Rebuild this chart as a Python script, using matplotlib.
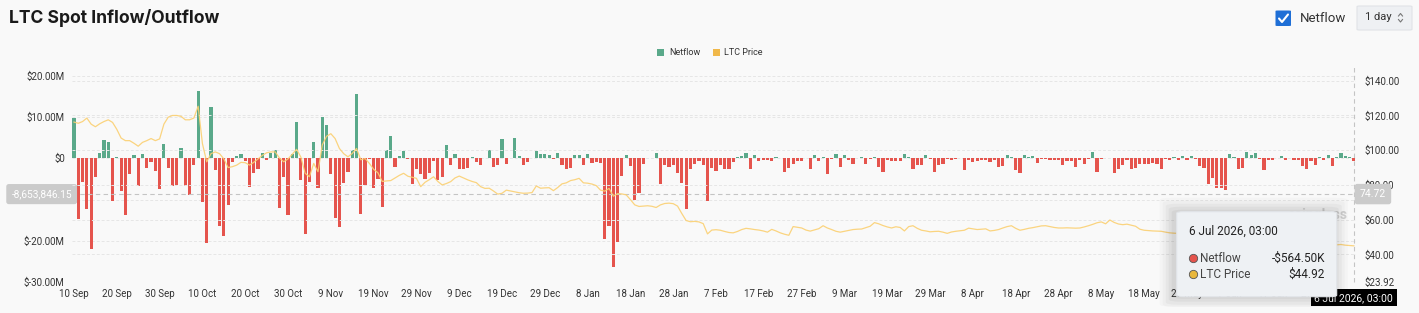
import matplotlib
matplotlib.use("Agg")
import matplotlib.pyplot as plt
import numpy as np
import pandas as pd
from matplotlib.patches import FancyBboxPatch, Rectangle
from matplotlib.lines import Line2D
import matplotlib.transforms as mtransforms

# ---------------- data ----------------
start_date = "2025-09-10"

netflow_m = [
    9.7, -14.6, -5.8, -12.2, -22.0, -4.5, 1.4, 4.4, 4.0, -10.4,
    0.3, -7.8, -13.8, -3.8, 0.7, -6.8, 1.0, -2.3, -0.9, -3.0,
    -7.3, 3.5, -2.3, -6.8, -6.4, 2.5, -6.6, -8.8, -1.5, 16.4,
    -10.5, -20.4, 12.4, -2.9, -16.3, -18.7, -11.4, -1.0, 0.5, 1.0,
    -0.6, -7.0, -3.5, -2.7, 1.3, -0.3, 1.3, 2.1, -12.0, -4.6,
    -13.8, 1.0, 8.8, -5.3, -18.3, -5.7, 3.9, -7.2, 10.0, 8.1,
    -3.7, -14.4, -16.6, -6.0, -3.2, 1.9, 15.5, -13.4, -6.5, -0.2,
    -7.2, -4.9, -11.7, 2.1, 5.5, -2.2, 0.5, 1.8, -0.2, -6.2,
    -2.7, -3.8, -5.0, -3.5, -0.7, -5.3, -4.4, 3.3, -1.7, 1.1,
    -2.6, -2.7, -2.4, 0.3, -1.0, -1.7, 0.2, 2.0, -2.0, -1.7,
    4.7, -1.4, 0.1, 5.0, 0.6, -1.6, -0.9, 0.2, 1.8, 1.1,
    1.0, 0.8, -0.2, 1.4, -1.5, -2.6, -2.4, 0.8, 0.8, -1.7,
    1.0, -1.1, -0.9, -1.1, -19.4, -16.4, -26.2, -20.2, -4.2, 0.8,
    -1.9, -10.0, -8.5, -1.3, 0.1, 0.2, 1.3, -6.2, -1.7, -2.1,
    -1.7, -3.5, -6.0, -12.2, -2.7, -1.4, -0.6, -1.7, -10.4, -2.3,
    -3.0, -1.7, -2.6, -2.7, -0.9, 0.3, 0.5, 1.3, -2.5, 0.7,
    -0.6, -0.3, -0.3, -0.6, 0.3, 0.2, -3.3, -2.3, -1.3, -0.7,
    -0.7, 0.2, -2.7, 0.8, -0.6, 0.3, -3.9, -0.1, 1.1, -2.0,
    0.8, -0.3, -1.4, 0.2, 0.3, -1.4, -0.1, 0.3, -2.0, -3.3,
    -0.4, -0.7, -0.7, -0.7, 1.0, 0.3, -2.5, -1.5, -1.5, 0.8,
    -0.2, -3.3, -1.5, -1.4, -0.2, -0.3, -0.2, 0.2, -2.9, -0.3,
    -0.9, -0.7, -0.3, -0.4, -1.0, -0.3, -2.0, -1.8, 0.8, 0.3,
    -2.9, -3.5, 0.7, 0.3, 0.5, -1.1, -0.2, -0.2, -0.3, -0.5,
    -0.5, -1.5, -0.6, -0.6, -2.0, -0.4, -1.4, -0.2, 1.5, -3.4,
    -0.1, 0.2, 0.1, -3.5, -2.7, -1.7, -0.4, -2.7, -2.3, -1.3,
    -1.3, -1.3, -1.1, -1.3, -2.7, -0.2, -0.3, 0.4, -0.5, 0.5,
    -0.3, 0.5, -0.2, -1.8, -2.4, -6.1, -4.8, -7.2, -7.2, -7.6,
    1.1, 0.3, -2.7, -2.3, 1.5, 0.8, 1.3, -0.2, -2.9, -0.3,
    -0.4, 0.2, 0.5, -0.4, 0.2, -0.4, -0.5, -1.8, -2.7, -0.6,
    -1.5, 0.3, -0.4, 0.8, -1.8, 0.3, 1.3, 0.5, 0.3, -0.5645,
]

ltc_price = [
    116.2, 115.5, 116.5, 118.5, 115.0, 113.5, 115.2, 116.5, 117.5, 116.0,
    112.0, 107.0, 105.5, 105.5, 104.0, 102.3, 104.5, 105.5, 106.7, 105.5,
    106.5, 115.0, 119.0, 120.0, 120.0, 119.5, 117.5, 117.5, 118.5, 125.3,
    103.8, 93.3, 98.0, 99.0, 98.0, 95.0, 90.0, 90.5, 91.4, 93.0,
    92.8, 91.4, 93.0, 95.0, 97.0, 98.5, 99.0, 99.0, 95.5, 93.3,
    95.0, 97.7, 100.5, 96.0, 86.7, 84.7, 92.4, 87.6, 103.0, 108.0,
    109.5, 106.7, 101.0, 98.0, 96.2, 98.1, 101.0, 94.5, 95.2, 92.4,
    89.0, 87.0, 82.0, 82.3, 82.5, 84.0, 85.5, 86.7, 85.0, 84.4,
    83.8, 79.0, 81.5, 83.0, 84.7, 82.0, 80.0, 80.8, 81.9, 84.0,
    85.1, 84.0, 82.9, 82.0, 81.3, 79.0, 78.0, 78.1, 76.5, 74.7,
    75.2, 77.0, 76.5, 76.0, 75.5, 75.2, 75.3, 75.6, 79.4, 78.1,
    78.3, 78.4, 76.7, 78.5, 80.6, 81.2, 82.5, 83.0, 83.8, 81.2,
    81.0, 80.5, 79.6, 77.0, 76.4, 78.0, 73.5, 75.0, 74.8, 74.3,
    71.5, 68.5, 67.6, 67.8, 68.0, 67.7, 67.0, 68.5, 69.3, 69.5,
    69.2, 67.8, 63.5, 59.5, 58.8, 59.0, 58.7, 57.7, 51.8, 54.0,
    54.2, 53.9, 53.2, 52.6, 52.4, 53.2, 54.3, 55.0, 54.7, 54.3,
    54.0, 53.5, 52.8, 54.4, 53.5, 52.4, 51.6, 51.0, 56.0, 55.6,
    55.2, 54.0, 53.4, 54.1, 54.8, 56.5, 55.2, 54.3, 53.3, 52.8,
    53.3, 53.8, 54.3, 54.5, 54.6, 55.4, 56.2, 58.3, 57.6, 56.6,
    55.8, 55.2, 55.9, 55.5, 53.5, 56.0, 56.5, 55.0, 53.9, 53.5,
    53.0, 53.2, 53.3, 52.8, 52.1, 52.9, 53.3, 53.6, 53.9, 55.1,
    54.7, 54.3, 54.5, 54.7, 53.5, 53.8, 54.3, 55.2, 56.0, 56.5,
    55.0, 53.9, 54.4, 55.0, 55.4, 55.9, 56.4, 56.5, 56.0, 55.5,
    55.2, 55.2, 55.3, 55.2, 55.1, 55.2, 55.8, 56.5, 57.3, 58.2,
    58.7, 57.6, 59.8, 58.4, 57.5, 57.1, 57.4, 56.8, 56.2, 54.5,
    53.9, 53.7, 53.5, 53.4, 53.3, 52.8, 52.4, 52.2, 52.1, 51.8,
    51.3, 51.6, 50.8, 50.9, 50.2, 50.6, 49.7, 49.9, 49.1, 49.3,
    48.6, 48.9, 48.2, 48.4, 47.7, 48.1, 47.5, 47.8, 47.2, 47.4,
    46.8, 47.1, 46.5, 46.7, 46.2, 46.4, 45.9, 46.1, 45.6, 45.8,
    45.3, 45.6, 45.2, 45.4, 45.0, 45.5, 45.7, 45.3, 45.1, 44.92,
]

left_ticks_m = [20, 10, 0, -10, -20, -30]
left_tick_labels = ["$20.00M", "$10.00M", "$0", "", "$-20.00M", "$-30.00M"]
right_ticks = [140, 120, 100, 80, 60, 40]
price_floor = 23.92
price_ceiling = 142.9
crosshair_netflow = -8653846.15
crosshair_price = 74.72
hover_label = "6 Jul 2026, 03:00"
hover_netflow = "-$564.50K"
hover_price = "$44.92"

assert len(netflow_m) == len(ltc_price) == 300

# ---------------- styling ----------------
W, H, DPI = 1419, 313, 100
BG = "#f9f9f9"
GREEN = "#5aa98a"
RED = "#e5544d"
PRICE = "#fbd072"
GRID = "#e6e6e6"
TXT = "#333333"
plt.rcParams["font.family"] = ["Roboto", "DejaVu Sans"]

def fx(px):
    return px / W

def fy(py):
    return 1 - py / H

fig = plt.figure(figsize=(W / DPI, H / DPI), dpi=DPI, facecolor=BG)

ax_left, ax_right, ax_top, ax_bot = 71.7, 1356, 75.7, 282.3
ax = fig.add_axes([fx(ax_left), fy(ax_bot), fx(ax_right - ax_left), (ax_bot - ax_top) / H])
ax.set_facecolor("none")
ax2 = ax.twinx()

dates = pd.date_range(start_date, periods=len(netflow_m), freq="D")
xs = np.arange(len(dates))
vals = np.array(netflow_m)
colors = [GREEN if v >= 0 else RED for v in vals]

ax.bar(xs, vals, width=0.74, color=colors, zorder=3)
ax2.plot(xs, ltc_price, color=PRICE, lw=0.9, alpha=0.9, zorder=4, solid_joinstyle="round")

ax.set_xlim(-0.54, 299.5)
ax.set_ylim(-30, 20)
ax2.set_ylim(price_floor, price_ceiling)

# grid lines
for t in left_ticks_m:
    ax.axhline(t, color=GRID, lw=0.7, ls=(0, (3, 2)), zorder=1)
for t in right_ticks:
    ax2.axhline(t, color=GRID, lw=0.7, ls=(0, (3, 2)), zorder=1)

for a in (ax, ax2):
    for s in a.spines.values():
        s.set_visible(False)

ax.set_yticks(left_ticks_m)
ax.set_yticklabels(left_tick_labels)
ax.tick_params(axis="y", length=0, pad=5, labelsize=7, labelcolor=TXT)
ax2.set_yticks(right_ticks + [price_floor])
ax2.set_yticklabels([f"${v:.2f}" for v in right_ticks + [price_floor]])
ax2.tick_params(axis="y", length=0, pad=6, labelsize=7, labelcolor=TXT)

tick_idx = list(range(0, len(dates), 10))
ax.set_xticks(tick_idx)
ax.set_xticklabels([f"{dates[i].day} {dates[i].strftime('%b')}" for i in tick_idx])
ax.tick_params(axis="x", length=0, pad=5, labelsize=7, labelcolor=TXT)

# crosshair
ax.axhline(crosshair_netflow / 1e6, color="#c4c4c4", lw=0.8, ls=(0, (4, 3)), zorder=5)
ax.axvline(xs[-1], color="#c4c4c4", lw=0.8, ls=(0, (4, 3)), zorder=5, ymax=1.04, clip_on=False)
tr_l = mtransforms.blended_transform_factory(ax.transAxes, ax.transData)
ax.text(0.0002, crosshair_netflow / 1e6, f"{crosshair_netflow:,.2f}", transform=tr_l,
        ha="right", va="center", fontsize=7.3, color="white", zorder=10,
        bbox=dict(boxstyle="round,pad=0.5,rounding_size=0.25", fc="#cbcbcb", ec="none"))
tr_r = mtransforms.blended_transform_factory(ax2.transAxes, ax2.transData)
ax2.text(1.003, crosshair_price, f"{crosshair_price:.2f}", transform=tr_r,
         ha="left", va="center", fontsize=7.5, color="white", zorder=10,
         bbox=dict(boxstyle="round,pad=0.5,rounding_size=0.25", fc="#cbcbcb", ec="none"))
tr_b = mtransforms.blended_transform_factory(ax.transData, ax.transAxes)
ax.text(xs[-1], -0.075, hover_label, transform=tr_b, ha="center", va="center",
        fontsize=7.5, color="white", zorder=12,
        bbox=dict(boxstyle="square,pad=0.35", fc="black", ec="none"), clip_on=False)

# watermark (mostly hidden by the tooltip)
fig.text(fx(1318), fy(215), "coinglass", fontsize=10, color="#d2d2d2", ha="center",
         va="center", fontweight="bold", zorder=2)

# tooltip with soft shadow
for i, al in enumerate([0.02, 0.025, 0.03, 0.035, 0.04]):
    g = 14 - i * 3
    fig.patches.append(FancyBboxPatch((fx(1176.7 - g - 3), fy(296.7 + min(g, 10))), fx(160 + 2 * g), (85 + g + min(g, 10)) / H,
                                      boxstyle="round,pad=0,rounding_size=0.008",
                                      transform=fig.transFigure, fc="black", ec="none",
                                      alpha=al, zorder=20))
fig.patches.append(FancyBboxPatch((fx(1176.7), fy(296.7)), fx(160), 85 / H,
                                  boxstyle="round,pad=0,rounding_size=0.005",
                                  transform=fig.transFigure, fc="#eef1f4", ec="#e2e5e9",
                                  lw=0.8, zorder=21))
fig.text(fx(1189), fy(231), hover_label, fontsize=8.5, color="#222", va="center", zorder=22)
for yy, col, lab, val in [(258, RED, "Netflow", hover_netflow), (274, "#e8b73c", "LTC Price", hover_price)]:
    fig.lines.append(Line2D([fx(1193)], [fy(yy)], marker="o", ms=6, mfc=col, mec="#555",
                            mew=0.6, transform=fig.transFigure, zorder=22))
    fig.text(fx(1200), fy(yy), lab, fontsize=8.5, color="#444", va="center", zorder=22)
    fig.text(fx(1325), fy(yy), val, fontsize=8.5, color="#222", va="center", ha="right", zorder=22)

# legend
fig.patches.append(Rectangle((fx(657), fy(56)), fx(7), 7 / H, transform=fig.transFigure, fc=GREEN, ec="none"))
fig.text(fx(669), fy(52.5), "Netflow", fontsize=6.5, color=TXT, va="center")
fig.patches.append(Rectangle((fx(713), fy(56)), fx(7), 7 / H, transform=fig.transFigure, fc="#f0b84a", ec="none"))
fig.text(fx(724), fy(52.5), "LTC Price", fontsize=6.5, color=TXT, va="center")

# title
fig.text(fx(9), fy(18), "LTC Spot Inflow/Outflow", fontsize=12.6, fontweight="bold",
         color="#1a1a1a", va="center", family=["Inter", "DejaVu Sans"])

# top-right controls
fig.patches.append(FancyBboxPatch((fx(1275.5), fy(26)), fx(15.5), 15.5 / H,
                                  boxstyle="round,pad=0,rounding_size=0.0015",
                                  transform=fig.transFigure, fc="#1f6fd6", ec="none"))
fig.lines.append(Line2D([fx(1279), fx(1282), fx(1288)], [fy(18.5), fy(22), fy(14.5)],
                        color="white", lw=1.5, transform=fig.transFigure, solid_capstyle="round"))
fig.text(fx(1300), fy(18), "Netflow", fontsize=9.5, color="#333", va="center")
fig.patches.append(FancyBboxPatch((fx(1357), fy(30)), fx(55), 24 / H,
                                  boxstyle="round,pad=0,rounding_size=0.002",
                                  transform=fig.transFigure, fc="#eef0f3", ec="#e0e3e7", lw=0.8))
fig.text(fx(1365), fy(17.5), "1 day", fontsize=8, color="#333", va="center")
fig.lines.append(Line2D([fx(1398.5), fx(1400.5), fx(1402.5)], [fy(16), fy(13.5), fy(16)],
                        color="#777", lw=0.8, transform=fig.transFigure))
fig.lines.append(Line2D([fx(1398.5), fx(1400.5), fx(1402.5)], [fy(19.5), fy(22), fy(19.5)],
                        color="#777", lw=0.8, transform=fig.transFigure))

fig.savefig("out.png", dpi=DPI, facecolor=BG)
